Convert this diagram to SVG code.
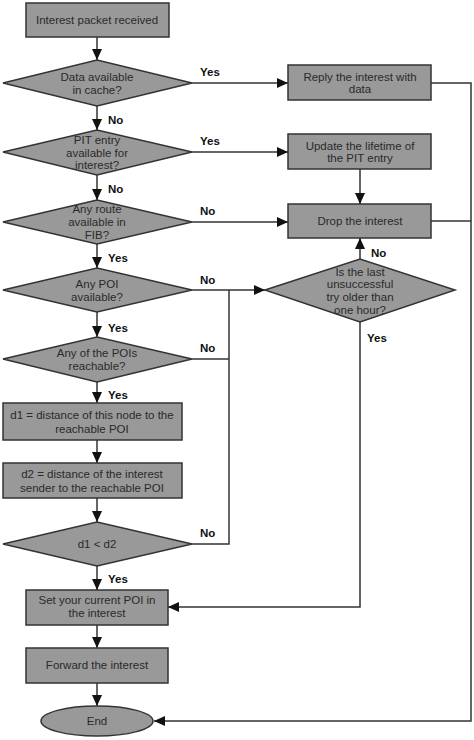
<svg xmlns="http://www.w3.org/2000/svg" width="474" height="740" viewBox="0 0 474 740">
<style>
.n{fill:#999999;stroke:#333333;stroke-width:1.5}
.t{font-family:"Liberation Sans",Arial,sans-serif;font-size:11.5px;fill:#2a2a2a;text-anchor:middle}
.l{font-family:"Liberation Sans",Arial,sans-serif;font-size:11.5px;font-weight:bold;fill:#111111}
.c{fill:none;stroke:#333333;stroke-width:1.5}
</style>
<defs>
<marker id="a" markerUnits="userSpaceOnUse" markerWidth="12" markerHeight="10" refX="11" refY="5" orient="auto">
<path d="M0,0 L11,5 L0,10 z" fill="#111111"/>
</marker>
</defs>
<rect width="474" height="740" fill="#ffffff"/>
<g id="connectors">
<path class="c" d="M97,37 V60" marker-end="url(#a)"/>
<path class="c" d="M97,106 V130" marker-end="url(#a)"/>
<path class="c" d="M97,175 V200" marker-end="url(#a)"/>
<path class="c" d="M97,244 V268" marker-end="url(#a)"/>
<path class="c" d="M97,312 V337" marker-end="url(#a)"/>
<path class="c" d="M97,382 V403" marker-end="url(#a)"/>
<path class="c" d="M97,440 V463" marker-end="url(#a)"/>
<path class="c" d="M97,498 V522" marker-end="url(#a)"/>
<path class="c" d="M97,566 V590" marker-end="url(#a)"/>
<path class="c" d="M97,625 V648" marker-end="url(#a)"/>
<path class="c" d="M97,683 V706" marker-end="url(#a)"/>
<path class="c" d="M192,83 H288" marker-end="url(#a)"/>
<path class="c" d="M192,152 H288" marker-end="url(#a)"/>
<path class="c" d="M192,222 H288" marker-end="url(#a)"/>
<path class="c" d="M360,169 V204" marker-end="url(#a)"/>
<path class="c" d="M192,290 H265" marker-end="url(#a)"/>
<path class="c" d="M192,359 H229"/>
<path class="c" d="M192,544 H229 V290"/>
<path class="c" d="M360,259 V238" marker-end="url(#a)"/>
<path class="c" d="M360,322 V607 H168" marker-end="url(#a)"/>
<path class="c" d="M431,83 H471 V721 H154" marker-end="url(#a)"/>
<path class="c" d="M431,221 H471"/>
</g>
<g id="labels">
<text class="l" x="200" y="76">Yes</text>
<text class="l" x="108" y="124">No</text>
<text class="l" x="200" y="145">Yes</text>
<text class="l" x="108" y="193">No</text>
<text class="l" x="200" y="215">No</text>
<text class="l" x="108" y="262">Yes</text>
<text class="l" x="200" y="284">No</text>
<text class="l" x="108" y="332">Yes</text>
<text class="l" x="200" y="352">No</text>
<text class="l" x="108" y="399">Yes</text>
<text class="l" x="200" y="537">No</text>
<text class="l" x="108" y="583">Yes</text>
<text class="l" x="371" y="257">No</text>
<text class="l" x="367" y="342">Yes</text>
</g>
<g id="start">
<rect class="n" x="26" y="3" width="143" height="34"/>
<text class="t" x="97" y="24">Interest packet received</text>
</g>
<g id="cache">
<polygon class="n" points="3,83 97,60 192,83 97,106"/>
<text class="t" x="97" y="81">Data available</text>
<text class="t" x="97" y="94">in cache?</text>
</g>
<g id="pit">
<polygon class="n" points="3,152 97,130 192,152 97,175"/>
<text class="t" x="97" y="144">PIT entry</text>
<text class="t" x="97" y="157">available for</text>
<text class="t" x="97" y="169">interest?</text>
</g>
<g id="fib">
<polygon class="n" points="3,222 97,200 192,222 97,244"/>
<text class="t" x="97" y="213">Any route</text>
<text class="t" x="97" y="226">available in</text>
<text class="t" x="97" y="239">FIB?</text>
</g>
<g id="poi">
<polygon class="n" points="3,290 97,268 192,290 97,312"/>
<text class="t" x="97" y="288">Any POI</text>
<text class="t" x="97" y="301">available?</text>
</g>
<g id="reachable">
<polygon class="n" points="3,359 97,337 192,359 97,382"/>
<text class="t" x="97" y="357">Any of the POIs</text>
<text class="t" x="97" y="370">reachable?</text>
</g>
<g id="d1">
<rect class="n" x="3" y="403" width="179" height="37"/>
<text class="t" x="92" y="419">d1 = distance of this node to the</text>
<text class="t" x="92" y="433">reachable POI</text>
</g>
<g id="d2">
<rect class="n" x="3" y="463" width="179" height="35"/>
<text class="t" x="92" y="478">d2 = distance of the interest</text>
<text class="t" x="92" y="492">sender to the reachable POI</text>
</g>
<g id="compare">
<polygon class="n" points="3,544 97,522 192,544 97,566"/>
<text class="t" x="97" y="548">d1 &lt; d2</text>
</g>
<g id="setpoi">
<rect class="n" x="26" y="590" width="142" height="35"/>
<text class="t" x="97" y="604">Set your current POI in</text>
<text class="t" x="97" y="617">the interest</text>
</g>
<g id="forward">
<rect class="n" x="26" y="648" width="142" height="35"/>
<text class="t" x="97" y="669">Forward the interest</text>
</g>
<g id="end">
<ellipse class="n" cx="97" cy="721" rx="56" ry="15"/>
<text class="t" x="97" y="725">End</text>
</g>
<g id="reply">
<rect class="n" x="288" y="65" width="143" height="35"/>
<text class="t" x="360" y="81">Reply the interest with</text>
<text class="t" x="360" y="93">data</text>
</g>
<g id="update">
<rect class="n" x="288" y="134" width="143" height="35"/>
<text class="t" x="360" y="150">Update the lifetime of</text>
<text class="t" x="360" y="162">the PIT entry</text>
</g>
<g id="drop">
<rect class="n" x="288" y="204" width="143" height="34"/>
<text class="t" x="360" y="225">Drop the interest</text>
</g>
<g id="older">
<polygon class="n" points="265,290 360,259 455,290 360,322"/>
<text class="t" x="360" y="276">Is the last</text>
<text class="t" x="360" y="288">unsuccessful</text>
<text class="t" x="360" y="301">try older than</text>
<text class="t" x="360" y="314">one hour?</text>
</g>
</svg>
